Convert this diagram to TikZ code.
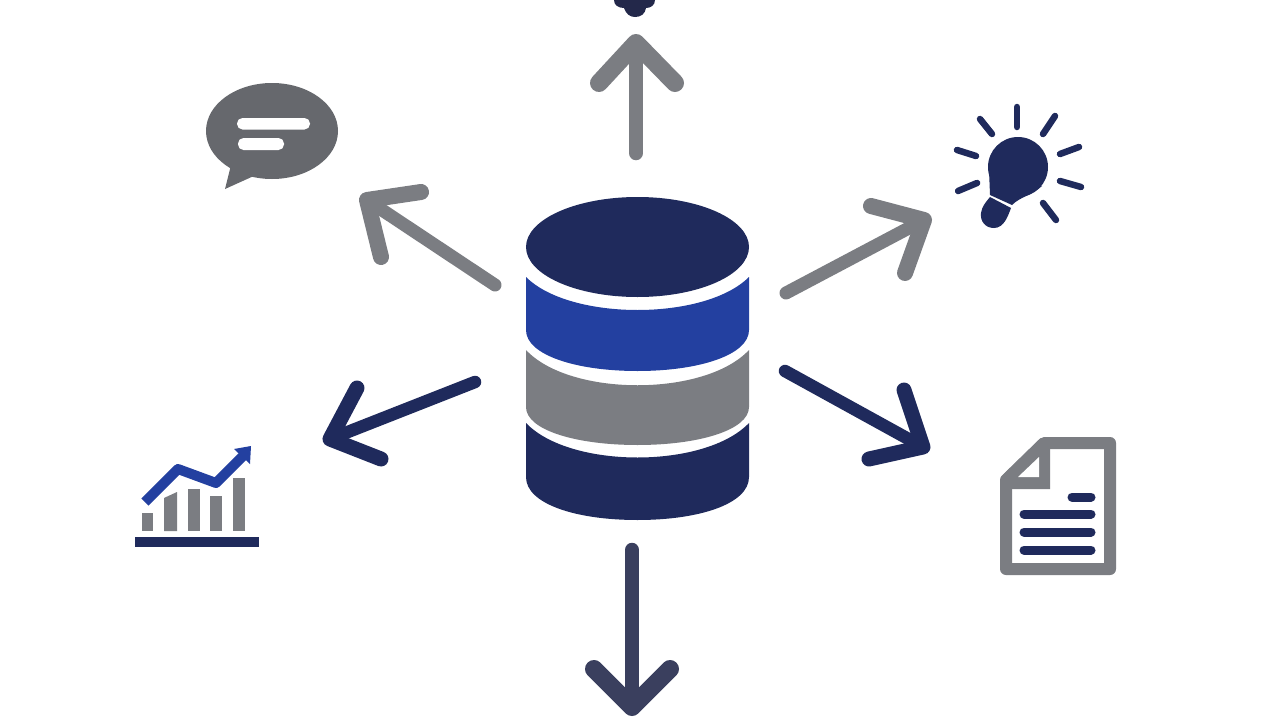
\documentclass[tikz,border=0pt]{standalone}
\definecolor{navy}{HTML}{1F2A5C}
\definecolor{royal}{HTML}{2340A0}
\definecolor{midgray}{HTML}{7B7D82}
\definecolor{darkgray}{HTML}{66686D}
\definecolor{slate}{HTML}{3A3F5E}
\definecolor{ink}{HTML}{23284A}
\tikzset{
  graywide/.style={draw=midgray,line width=14.5pt,line cap=round,line join=round},
  grayarrow/.style={draw=midgray,line width=13pt,line cap=round,line join=round},
  navyarrow/.style={draw=navy,line width=12.5pt,line cap=round,line join=round},
  slatearrow/.style={draw=slate,line width=14.5pt,line cap=round,line join=round},
  headwide/.style={line width=18pt},
  headthin/.style={line width=16pt},
  ray/.style={draw=navy,line width=6.5pt,line cap=round},
  docline/.style={draw=navy,line width=9pt,line cap=round},
  bar/.style={fill=midgray,draw=none}
}
\begin{document}
\begin{tikzpicture}[x=1pt,y=-1pt]
\useasboundingbox (0,0) rectangle (1280,720);
\fill[white] (0,0) rectangle (1280,720);

% cylinder
\fill[navy] (526,477) .. controls (526,504) and (576,520) .. (637.5,520) .. controls (699,520) and (749,504) .. (749,477)
  -- (749,423) .. controls (705,469) and (570,469) .. (526,423) -- cycle;
\fill[midgray] (526,407) .. controls (526,430) and (576,445) .. (637.5,445) .. controls (699,445) and (749,430) .. (749,407)
  -- (749,350) .. controls (705,397) and (570,397) .. (526,350) -- cycle;
\fill[royal] (526,330) .. controls (526,355) and (576,371) .. (637.5,371) .. controls (699,371) and (749,355) .. (749,330)
  -- (749,277) .. controls (705,321) and (570,321) .. (526,277) -- cycle;
\fill[navy] (637.5,247) ellipse [x radius=111.5,y radius=50];

% arrows
\coordinate (ups) at (636,153); \coordinate (upt) at (636,43); \coordinate (upl) at (599,83); \coordinate (upr) at (675,83);
\draw[graywide] (ups) -- (upt); \draw[graywide,headwide] (upl) -- (upt) -- (upr);

\coordinate (uls) at (495,285); \coordinate (ult) at (367,200); \coordinate (ull) at (421,192); \coordinate (ulr) at (381,257);
\draw[grayarrow] (uls) -- (ult); \draw[grayarrow,headthin] (ull) -- (ult) -- (ulr);

\coordinate (urs) at (786,293); \coordinate (urt) at (924,220); \coordinate (url) at (871,206); \coordinate (urr) at (905,273);
\draw[grayarrow] (urs) -- (urt); \draw[grayarrow,headthin] (url) -- (urt) -- (urr);

\coordinate (lrs) at (785,371); \coordinate (lrt) at (923,447); \coordinate (lrl) at (904,390); \coordinate (lrr) at (869,459);
\draw[navyarrow] (lrs) -- (lrt); \draw[navyarrow,line width=15pt] (lrl) -- (lrt) -- (lrr);

\coordinate (lls) at (475,382); \coordinate (llt) at (330,439); \coordinate (lll) at (357,388); \coordinate (llr) at (381,459);
\draw[navyarrow] (lls) -- (llt); \draw[navyarrow,line width=15pt] (lll) -- (llt) -- (llr);

\coordinate (dns) at (632,550); \coordinate (dnt) at (632,707); \coordinate (dnl) at (594,669); \coordinate (dnr) at (670,669);
\draw[slatearrow] (dns) -- (dnt); \draw[slatearrow,headwide] (dnl) -- (dnt) -- (dnr);

% cut-off icon at the top
\fill[ink] (614,0) .. controls (614,5) and (618,8) .. (624,8) .. controls (626,14) and (630,17) .. (635,17)
  .. controls (641,17) and (645,14) .. (646,8) .. controls (651,8) and (655,5) .. (655,0) -- cycle;

% speech bubble
\fill[darkgray] (272,131) ellipse [x radius=66,y radius=48];
\fill[darkgray] (231,165) -- (225,189) -- (256,175) -- cycle;
\fill[white,rounded corners=5.5pt] (237,118) rectangle (310,129.5);
\fill[white,rounded corners=5.5pt] (238,138) rectangle (284,150);

% light bulb
\fill[navy] (1018,167) circle [radius=30];
\fill[navy] (989,170) -- (990,195) -- (1012,205) .. controls (1020,197) and (1032,195) .. (1042,186) -- cycle;
\fill[navy] (990,197) -- (1011,208) .. controls (1008,216) and (1004,228) .. (994,228)
  .. controls (985,228) and (980,221) .. (981,213) .. controls (982,206) and (986,202) .. (990,197) -- cycle;
\coordinate (r1a) at (1017,107); \coordinate (r1b) at (1017,127);
\coordinate (r2a) at (980,119); \coordinate (r2b) at (992,134);
\coordinate (r3a) at (1055,116); \coordinate (r3b) at (1043,134);
\coordinate (r4a) at (957,150); \coordinate (r4b) at (976,156);
\coordinate (r5a) at (1079,147); \coordinate (r5b) at (1060,154);
\coordinate (r6a) at (958,191); \coordinate (r6b) at (977,183);
\coordinate (r7a) at (1060,181); \coordinate (r7b) at (1081,187);
\coordinate (r8a) at (1043,203); \coordinate (r8b) at (1056,220);
\foreach \i in {1,...,8} \draw[ray] (r\i a) -- (r\i b);

% document
\draw[draw=midgray,line width=12pt,line join=round] (1006,480) -- (1044,443) -- (1110,443) -- (1110,569) -- (1006,569) -- cycle;
\fill[midgray] (1001,477) -- (1041,438) -- (1050,438) -- (1050,489) -- (1001,489) -- cycle;
\fill[white] (1018,477) -- (1039,477) -- (1039,457) -- cycle;
\draw[docline] (1072,497) -- (1091,497);
\draw[docline] (1024,514) -- (1091,514);
\draw[docline] (1024,532) -- (1091,532);
\draw[docline] (1024,550) -- (1091,550);

% chart
\fill[navy] (135,537) rectangle (259,547);
\fill[bar] (142,513) rectangle (153,531);
\fill[bar] (164,498) -- (177,492) -- (177,531) -- (164,531) -- cycle;
\fill[bar] (188,489) rectangle (200,531);
\fill[bar] (210,496) rectangle (222,531);
\fill[bar] (233,478) rectangle (245,531);
\draw[draw=royal,line width=10pt,line join=round] (145,502) -- (178,469) -- (216,483) -- (243,456);
\fill[royal] (234,449) -- (251,446) -- (250,464) -- cycle;
\end{tikzpicture}
\end{document}
